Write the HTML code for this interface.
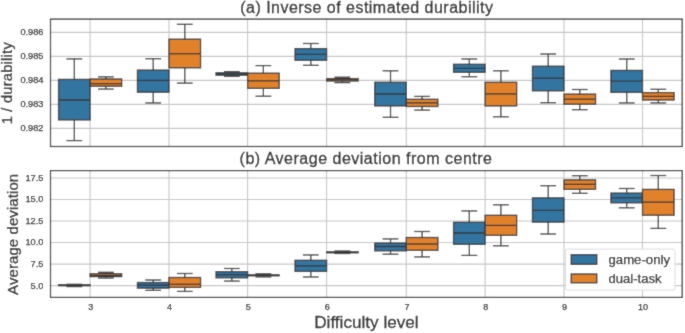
<!DOCTYPE html>
<html><head><meta charset="utf-8"><style>
html,body{margin:0;padding:0;background:#fff;width:685px;height:333px;overflow:hidden}
svg{display:block;font-family:"Liberation Sans",sans-serif}
</style></head><body>
<svg width="685" height="333" viewBox="0 0 685 333">
<defs><filter id="bl" x="0" y="0" width="685" height="333" filterUnits="userSpaceOnUse"><feConvolveMatrix order="3" kernelMatrix="1 2 1 2 20 2 1 2 1" divisor="32" edgeMode="duplicate"/></filter></defs>
<g filter="url(#bl)">
<rect width="685" height="333" fill="#fff"/>
<g stroke="#c6c6c6" stroke-width="1.1">
<line x1="50.5" y1="32.35" x2="682.2" y2="32.35"/>
<line x1="50.5" y1="56.35" x2="682.2" y2="56.35"/>
<line x1="50.5" y1="80.35" x2="682.2" y2="80.35"/>
<line x1="50.5" y1="104.35" x2="682.2" y2="104.35"/>
<line x1="50.5" y1="128.35" x2="682.2" y2="128.35"/>
<line x1="90.1" y1="19.1" x2="90.1" y2="146.5"/>
<line x1="169" y1="19.1" x2="169" y2="146.5"/>
<line x1="247.6" y1="19.1" x2="247.6" y2="146.5"/>
<line x1="326.6" y1="19.1" x2="326.6" y2="146.5"/>
<line x1="406.3" y1="19.1" x2="406.3" y2="146.5"/>
<line x1="485.1" y1="19.1" x2="485.1" y2="146.5"/>
<line x1="564" y1="19.1" x2="564" y2="146.5"/>
<line x1="642.5" y1="19.1" x2="642.5" y2="146.5"/>
</g>
<g stroke="#383838" stroke-width="1.3">
<line x1="74.32" y1="58.9" x2="74.32" y2="79.4"/>
<line x1="74.32" y1="119.9" x2="74.32" y2="140.6"/>
<line x1="66.43" y1="58.9" x2="82.21" y2="58.9"/>
<line x1="66.43" y1="140.6" x2="82.21" y2="140.6"/>
<rect x="58.54" y="79.4" width="31.56" height="40.5" fill="#3274a1"/>
<line x1="58.54" y1="100" x2="90.1" y2="100"/>
<line x1="105.88" y1="76.8" x2="105.88" y2="79"/>
<line x1="105.88" y1="86.3" x2="105.88" y2="89.1"/>
<line x1="97.99" y1="76.8" x2="113.77" y2="76.8"/>
<line x1="97.99" y1="89.1" x2="113.77" y2="89.1"/>
<rect x="90.1" y="79" width="31.56" height="7.3" fill="#e1812c"/>
<line x1="90.1" y1="83.7" x2="121.66" y2="83.7"/>
<line x1="153.22" y1="58.7" x2="153.22" y2="70.1"/>
<line x1="153.22" y1="92.2" x2="153.22" y2="102.9"/>
<line x1="145.33" y1="58.7" x2="161.11" y2="58.7"/>
<line x1="145.33" y1="102.9" x2="161.11" y2="102.9"/>
<rect x="137.44" y="70.1" width="31.56" height="22.1" fill="#3274a1"/>
<line x1="137.44" y1="80.4" x2="169" y2="80.4"/>
<line x1="184.78" y1="24.3" x2="184.78" y2="39.2"/>
<line x1="184.78" y1="67.8" x2="184.78" y2="83.1"/>
<line x1="176.89" y1="24.3" x2="192.67" y2="24.3"/>
<line x1="176.89" y1="83.1" x2="192.67" y2="83.1"/>
<rect x="169" y="39.2" width="31.56" height="28.6" fill="#e1812c"/>
<line x1="169" y1="53.7" x2="200.56" y2="53.7"/>
<line x1="231.82" y1="71.6" x2="231.82" y2="72.8"/>
<line x1="231.82" y1="75.2" x2="231.82" y2="76.4"/>
<line x1="223.93" y1="71.6" x2="239.71" y2="71.6"/>
<line x1="223.93" y1="76.4" x2="239.71" y2="76.4"/>
<rect x="216.04" y="72.8" width="31.56" height="2.4" fill="#3274a1"/>
<line x1="216.04" y1="74" x2="247.6" y2="74"/>
<line x1="263.38" y1="65.6" x2="263.38" y2="73.2"/>
<line x1="263.38" y1="88.3" x2="263.38" y2="96.2"/>
<line x1="255.49" y1="65.6" x2="271.27" y2="65.6"/>
<line x1="255.49" y1="96.2" x2="271.27" y2="96.2"/>
<rect x="247.6" y="73.2" width="31.56" height="15.1" fill="#e1812c"/>
<line x1="247.6" y1="80.9" x2="279.16" y2="80.9"/>
<line x1="310.82" y1="43.5" x2="310.82" y2="48.6"/>
<line x1="310.82" y1="60.3" x2="310.82" y2="65.3"/>
<line x1="302.93" y1="43.5" x2="318.71" y2="43.5"/>
<line x1="302.93" y1="65.3" x2="318.71" y2="65.3"/>
<rect x="295.04" y="48.6" width="31.56" height="11.7" fill="#3274a1"/>
<line x1="295.04" y1="54.3" x2="326.6" y2="54.3"/>
<line x1="342.38" y1="77.2" x2="342.38" y2="78.6"/>
<line x1="342.38" y1="81" x2="342.38" y2="82.6"/>
<line x1="334.49" y1="77.2" x2="350.27" y2="77.2"/>
<line x1="334.49" y1="82.6" x2="350.27" y2="82.6"/>
<rect x="326.6" y="78.6" width="31.56" height="2.4" fill="#e1812c"/>
<line x1="326.6" y1="79.8" x2="358.16" y2="79.8"/>
<line x1="390.52" y1="70.8" x2="390.52" y2="82.3"/>
<line x1="390.52" y1="105.9" x2="390.52" y2="117.3"/>
<line x1="382.63" y1="70.8" x2="398.41" y2="70.8"/>
<line x1="382.63" y1="117.3" x2="398.41" y2="117.3"/>
<rect x="374.74" y="82.3" width="31.56" height="23.6" fill="#3274a1"/>
<line x1="374.74" y1="94" x2="406.3" y2="94"/>
<line x1="422.08" y1="96.4" x2="422.08" y2="99.3"/>
<line x1="422.08" y1="106.5" x2="422.08" y2="110.1"/>
<line x1="414.19" y1="96.4" x2="429.97" y2="96.4"/>
<line x1="414.19" y1="110.1" x2="429.97" y2="110.1"/>
<rect x="406.3" y="99.3" width="31.56" height="7.2" fill="#e1812c"/>
<line x1="406.3" y1="102.9" x2="437.86" y2="102.9"/>
<line x1="469.32" y1="59" x2="469.32" y2="64.3"/>
<line x1="469.32" y1="72.3" x2="469.32" y2="76.7"/>
<line x1="461.43" y1="59" x2="477.21" y2="59"/>
<line x1="461.43" y1="76.7" x2="477.21" y2="76.7"/>
<rect x="453.54" y="64.3" width="31.56" height="8" fill="#3274a1"/>
<line x1="453.54" y1="68.3" x2="485.1" y2="68.3"/>
<line x1="500.88" y1="70.8" x2="500.88" y2="82.3"/>
<line x1="500.88" y1="105.9" x2="500.88" y2="116.8"/>
<line x1="492.99" y1="70.8" x2="508.77" y2="70.8"/>
<line x1="492.99" y1="116.8" x2="508.77" y2="116.8"/>
<rect x="485.1" y="82.3" width="31.56" height="23.6" fill="#e1812c"/>
<line x1="485.1" y1="93.9" x2="516.66" y2="93.9"/>
<line x1="548.22" y1="54" x2="548.22" y2="66.2"/>
<line x1="548.22" y1="90.8" x2="548.22" y2="102.7"/>
<line x1="540.33" y1="54" x2="556.11" y2="54"/>
<line x1="540.33" y1="102.7" x2="556.11" y2="102.7"/>
<rect x="532.44" y="66.2" width="31.56" height="24.6" fill="#3274a1"/>
<line x1="532.44" y1="78.2" x2="564" y2="78.2"/>
<line x1="579.78" y1="89.5" x2="579.78" y2="94.1"/>
<line x1="579.78" y1="104.2" x2="579.78" y2="109.7"/>
<line x1="571.89" y1="89.5" x2="587.67" y2="89.5"/>
<line x1="571.89" y1="109.7" x2="587.67" y2="109.7"/>
<rect x="564" y="94.1" width="31.56" height="10.1" fill="#e1812c"/>
<line x1="564" y1="99.2" x2="595.56" y2="99.2"/>
<line x1="626.72" y1="59" x2="626.72" y2="70.4"/>
<line x1="626.72" y1="92.4" x2="626.72" y2="102.9"/>
<line x1="618.83" y1="59" x2="634.61" y2="59"/>
<line x1="618.83" y1="102.9" x2="634.61" y2="102.9"/>
<rect x="610.94" y="70.4" width="31.56" height="22" fill="#3274a1"/>
<line x1="610.94" y1="81.1" x2="642.5" y2="81.1"/>
<line x1="658.28" y1="89.3" x2="658.28" y2="92.6"/>
<line x1="658.28" y1="100" x2="658.28" y2="102.9"/>
<line x1="650.39" y1="89.3" x2="666.17" y2="89.3"/>
<line x1="650.39" y1="102.9" x2="666.17" y2="102.9"/>
<rect x="642.5" y="92.6" width="31.56" height="7.4" fill="#e1812c"/>
<line x1="642.5" y1="96.4" x2="674.06" y2="96.4"/>
</g>
<rect x="50.5" y="19.1" width="631.7" height="127.4" fill="none" stroke="#262626" stroke-width="1.25"/>
<g font-size="9.2" fill="#262626" stroke="#262626" stroke-width="0.25" text-anchor="end">
<text x="43.4" y="35.25">0.986</text>
<text x="43.4" y="59.25">0.985</text>
<text x="43.4" y="83.25">0.984</text>
<text x="43.4" y="107.25">0.983</text>
<text x="43.4" y="131.25">0.982</text>
</g>
<g stroke="#c6c6c6" stroke-width="1.1">
<line x1="50.5" y1="178" x2="682.2" y2="178"/>
<line x1="50.5" y1="199.52" x2="682.2" y2="199.52"/>
<line x1="50.5" y1="221.04" x2="682.2" y2="221.04"/>
<line x1="50.5" y1="242.56" x2="682.2" y2="242.56"/>
<line x1="50.5" y1="264.08" x2="682.2" y2="264.08"/>
<line x1="50.5" y1="285.6" x2="682.2" y2="285.6"/>
<line x1="90.1" y1="170.6" x2="90.1" y2="297.4"/>
<line x1="169" y1="170.6" x2="169" y2="297.4"/>
<line x1="247.6" y1="170.6" x2="247.6" y2="297.4"/>
<line x1="326.6" y1="170.6" x2="326.6" y2="297.4"/>
<line x1="406.3" y1="170.6" x2="406.3" y2="297.4"/>
<line x1="485.1" y1="170.6" x2="485.1" y2="297.4"/>
<line x1="564" y1="170.6" x2="564" y2="297.4"/>
<line x1="642.5" y1="170.6" x2="642.5" y2="297.4"/>
</g>
<g stroke="#383838" stroke-width="1.3">
<line x1="74.32" y1="284.3" x2="74.32" y2="284.7"/>
<line x1="74.32" y1="285.7" x2="74.32" y2="286.6"/>
<line x1="66.43" y1="284.3" x2="82.21" y2="284.3"/>
<line x1="66.43" y1="286.6" x2="82.21" y2="286.6"/>
<rect x="58.54" y="284.7" width="31.56" height="1" fill="#3274a1"/>
<line x1="58.54" y1="285.2" x2="90.1" y2="285.2"/>
<line x1="105.88" y1="272.3" x2="105.88" y2="273.7"/>
<line x1="105.88" y1="276.6" x2="105.88" y2="278"/>
<line x1="97.99" y1="272.3" x2="113.77" y2="272.3"/>
<line x1="97.99" y1="278" x2="113.77" y2="278"/>
<rect x="90.1" y="273.7" width="31.56" height="2.9" fill="#e1812c"/>
<line x1="90.1" y1="275.5" x2="121.66" y2="275.5"/>
<line x1="153.22" y1="280" x2="153.22" y2="282.5"/>
<line x1="153.22" y1="288.1" x2="153.22" y2="290.3"/>
<line x1="145.33" y1="280" x2="161.11" y2="280"/>
<line x1="145.33" y1="290.3" x2="161.11" y2="290.3"/>
<rect x="137.44" y="282.5" width="31.56" height="5.6" fill="#3274a1"/>
<line x1="137.44" y1="285.2" x2="169" y2="285.2"/>
<line x1="184.78" y1="273.5" x2="184.78" y2="277.5"/>
<line x1="184.78" y1="287.4" x2="184.78" y2="291.4"/>
<line x1="176.89" y1="273.5" x2="192.67" y2="273.5"/>
<line x1="176.89" y1="291.4" x2="192.67" y2="291.4"/>
<rect x="169" y="277.5" width="31.56" height="9.9" fill="#e1812c"/>
<line x1="169" y1="284.3" x2="200.56" y2="284.3"/>
<line x1="231.82" y1="268.5" x2="231.82" y2="271.7"/>
<line x1="231.82" y1="277.8" x2="231.82" y2="281.1"/>
<line x1="223.93" y1="268.5" x2="239.71" y2="268.5"/>
<line x1="223.93" y1="281.1" x2="239.71" y2="281.1"/>
<rect x="216.04" y="271.7" width="31.56" height="6.1" fill="#3274a1"/>
<line x1="216.04" y1="274.8" x2="247.6" y2="274.8"/>
<line x1="263.38" y1="273.8" x2="263.38" y2="274.8"/>
<line x1="263.38" y1="275.8" x2="263.38" y2="276.9"/>
<line x1="255.49" y1="273.8" x2="271.27" y2="273.8"/>
<line x1="255.49" y1="276.9" x2="271.27" y2="276.9"/>
<rect x="247.6" y="274.8" width="31.56" height="1" fill="#e1812c"/>
<line x1="247.6" y1="275.3" x2="279.16" y2="275.3"/>
<line x1="310.82" y1="254.9" x2="310.82" y2="260.3"/>
<line x1="310.82" y1="271.4" x2="310.82" y2="277"/>
<line x1="302.93" y1="254.9" x2="318.71" y2="254.9"/>
<line x1="302.93" y1="277" x2="318.71" y2="277"/>
<rect x="295.04" y="260.3" width="31.56" height="11.1" fill="#3274a1"/>
<line x1="295.04" y1="265.9" x2="326.6" y2="265.9"/>
<line x1="342.38" y1="251" x2="342.38" y2="251.8"/>
<line x1="342.38" y1="252.8" x2="342.38" y2="253.5"/>
<line x1="334.49" y1="251" x2="350.27" y2="251"/>
<line x1="334.49" y1="253.5" x2="350.27" y2="253.5"/>
<rect x="326.6" y="251.8" width="31.56" height="1" fill="#e1812c"/>
<line x1="326.6" y1="252.3" x2="358.16" y2="252.3"/>
<line x1="390.52" y1="238.9" x2="390.52" y2="243.1"/>
<line x1="390.52" y1="250.8" x2="390.52" y2="254.2"/>
<line x1="382.63" y1="238.9" x2="398.41" y2="238.9"/>
<line x1="382.63" y1="254.2" x2="398.41" y2="254.2"/>
<rect x="374.74" y="243.1" width="31.56" height="7.7" fill="#3274a1"/>
<line x1="374.74" y1="246.5" x2="406.3" y2="246.5"/>
<line x1="422.08" y1="231.5" x2="422.08" y2="237.5"/>
<line x1="422.08" y1="250.3" x2="422.08" y2="256.9"/>
<line x1="414.19" y1="231.5" x2="429.97" y2="231.5"/>
<line x1="414.19" y1="256.9" x2="429.97" y2="256.9"/>
<rect x="406.3" y="237.5" width="31.56" height="12.8" fill="#e1812c"/>
<line x1="406.3" y1="244" x2="437.86" y2="244"/>
<line x1="469.32" y1="210.9" x2="469.32" y2="222.3"/>
<line x1="469.32" y1="244.3" x2="469.32" y2="255.4"/>
<line x1="461.43" y1="210.9" x2="477.21" y2="210.9"/>
<line x1="461.43" y1="255.4" x2="477.21" y2="255.4"/>
<rect x="453.54" y="222.3" width="31.56" height="22" fill="#3274a1"/>
<line x1="453.54" y1="233" x2="485.1" y2="233"/>
<line x1="500.88" y1="204.8" x2="500.88" y2="215.3"/>
<line x1="500.88" y1="235.3" x2="500.88" y2="245.8"/>
<line x1="492.99" y1="204.8" x2="508.77" y2="204.8"/>
<line x1="492.99" y1="245.8" x2="508.77" y2="245.8"/>
<rect x="485.1" y="215.3" width="31.56" height="20" fill="#e1812c"/>
<line x1="485.1" y1="225.4" x2="516.66" y2="225.4"/>
<line x1="548.22" y1="185.7" x2="548.22" y2="197.9"/>
<line x1="548.22" y1="222.1" x2="548.22" y2="234"/>
<line x1="540.33" y1="185.7" x2="556.11" y2="185.7"/>
<line x1="540.33" y1="234" x2="556.11" y2="234"/>
<rect x="532.44" y="197.9" width="31.56" height="24.2" fill="#3274a1"/>
<line x1="532.44" y1="210.3" x2="564" y2="210.3"/>
<line x1="579.78" y1="175.7" x2="579.78" y2="179.9"/>
<line x1="579.78" y1="189.3" x2="579.78" y2="193.3"/>
<line x1="571.89" y1="175.7" x2="587.67" y2="175.7"/>
<line x1="571.89" y1="193.3" x2="587.67" y2="193.3"/>
<rect x="564" y="179.9" width="31.56" height="9.4" fill="#e1812c"/>
<line x1="564" y1="184.3" x2="595.56" y2="184.3"/>
<line x1="626.72" y1="188.5" x2="626.72" y2="193.1"/>
<line x1="626.72" y1="202.8" x2="626.72" y2="207.8"/>
<line x1="618.83" y1="188.5" x2="634.61" y2="188.5"/>
<line x1="618.83" y1="207.8" x2="634.61" y2="207.8"/>
<rect x="610.94" y="193.1" width="31.56" height="9.7" fill="#3274a1"/>
<line x1="610.94" y1="197.8" x2="642.5" y2="197.8"/>
<line x1="658.28" y1="175.5" x2="658.28" y2="189.4"/>
<line x1="658.28" y1="215.2" x2="658.28" y2="228.4"/>
<line x1="650.39" y1="175.5" x2="666.17" y2="175.5"/>
<line x1="650.39" y1="228.4" x2="666.17" y2="228.4"/>
<rect x="642.5" y="189.4" width="31.56" height="25.8" fill="#e1812c"/>
<line x1="642.5" y1="202.2" x2="674.06" y2="202.2"/>
</g>
<rect x="50.5" y="170.6" width="631.7" height="126.8" fill="none" stroke="#262626" stroke-width="1.25"/>
<g font-size="9.2" fill="#262626" stroke="#262626" stroke-width="0.25" text-anchor="end">
<text x="43.4" y="180.9">17.5</text>
<text x="43.4" y="202.42">15.0</text>
<text x="43.4" y="223.94">12.5</text>
<text x="43.4" y="245.46">10.0</text>
<text x="43.4" y="266.98">7.5</text>
<text x="43.4" y="288.5">5.0</text>
</g>
<g font-size="9" fill="#262626" stroke="#262626" stroke-width="0.25" text-anchor="middle">
<text x="90.7" y="310.2">3</text>
<text x="169.6" y="310.2">4</text>
<text x="248.2" y="310.2">5</text>
<text x="327.2" y="310.2">6</text>
<text x="406.9" y="310.2">7</text>
<text x="485.7" y="310.2">8</text>
<text x="564.6" y="310.2">9</text>
<text x="643.1" y="310.2">10</text>
</g>
<g fill="#262626" stroke="#262626" stroke-width="0.3">
<text x="240.3" y="13.1" font-size="16" textLength="252.6" lengthAdjust="spacing">(a) Inverse of estimated durability</text>
<text x="239.6" y="164.2" font-size="16" textLength="252.4" lengthAdjust="spacing">(b) Average deviation from centre</text>
<text x="314.2" y="328.1" font-size="17" textLength="104.5" lengthAdjust="spacingAndGlyphs">Difficulty level</text>
<text transform="translate(12.0,124.3) rotate(-90)" font-size="14.6" textLength="82.0" lengthAdjust="spacing">1 / durability</text>
<text transform="translate(17.8,294.9) rotate(-90)" font-size="15" textLength="121.1" lengthAdjust="spacing">Average deviation</text>
</g>
<rect x="565.4" y="249.1" width="109.6" height="41.0" rx="2" ry="2" fill="#ffffff" fill-opacity="0.95" stroke="#dddddd" stroke-width="1"/>
<rect x="571.2" y="254.7" width="25.6" height="9.6" fill="#3274a1" stroke="#383838" stroke-width="1.3"/>
<rect x="571.2" y="274.0" width="25.6" height="8.8" fill="#e1812c" stroke="#383838" stroke-width="1.3"/>
<g fill="#262626" stroke="#262626" stroke-width="0.25" font-size="13">
<text x="608.5" y="263.8" textLength="61.5" lengthAdjust="spacingAndGlyphs">game-only</text>
<text x="608.5" y="282.5" textLength="53" lengthAdjust="spacingAndGlyphs">dual-task</text>
</g>
</g>
</svg>
</body></html>
